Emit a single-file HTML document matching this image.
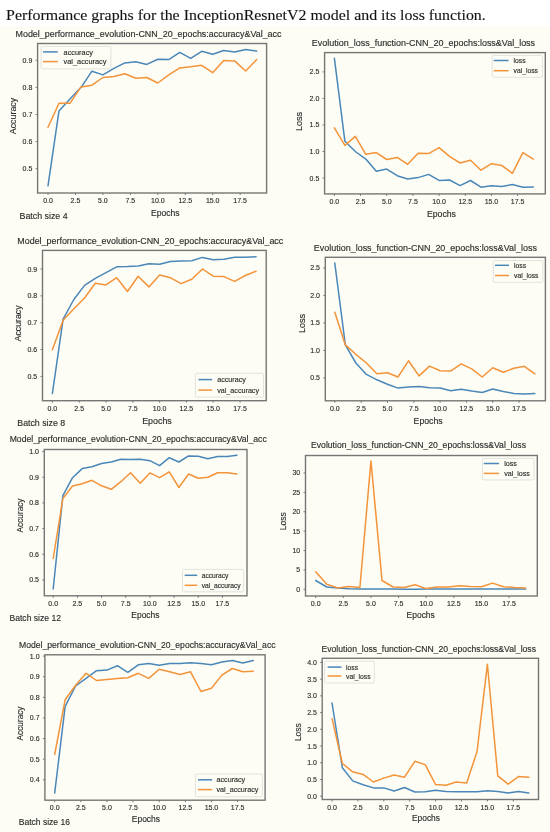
<!DOCTYPE html>
<html><head><meta charset="utf-8"><style>
html,body{margin:0;padding:0;background:#fdfdf5;}
svg{display:block;font-family:"Liberation Sans", sans-serif;will-change:transform;}
text{stroke:#303030;stroke-width:0.14px;}
</style></head><body>
<svg width="550" height="832" viewBox="0 0 550 832">
<rect x="0" y="0" width="550" height="832" fill="#fdfdf5"/>
<rect x="0" y="0" width="550" height="25.8" fill="#ffffff"/>
<text x="6.1" y="19.8" font-family="Liberation Serif" font-size="15" fill="#111" textLength="479.7" lengthAdjust="spacingAndGlyphs">Performance graphs for the InceptionResnetV2 model and its loss function.</text>
<polyline points="48,185.8 58.98,110.9 69.96,98.9 80.94,87.6 91.92,71.2 102.9,74.9 113.88,68.4 124.86,62.9 135.84,61.8 146.82,64.4 157.8,59.2 168.78,59.6 179.76,52.4 190.74,58.3 201.72,51.3 212.7,54.2 223.68,50.5 234.66,52 245.64,49.4 256.62,51.1" fill="none" stroke="#4a87b8" stroke-width="1.5" stroke-linejoin="round" stroke-linecap="round"/>
<polyline points="48,127.3 58.98,103.3 69.96,103.3 80.94,86.9 91.92,85.2 102.9,77.5 113.88,76.4 124.86,73.8 135.84,78.2 146.82,77.5 157.8,83 168.78,74.9 179.76,67.9 190.74,66.8 201.72,65.3 212.7,72.7 223.68,60.5 234.66,60.9 245.64,71 256.62,59.6" fill="none" stroke="#f3933a" stroke-width="1.5" stroke-linejoin="round" stroke-linecap="round"/>
<rect x="41.1" y="46.4" width="69.8" height="22.5" rx="1.2" fill="#fdfdf5" fill-opacity="0.85" stroke="#dcdcd8" stroke-width="0.8"/>
<line x1="43" y1="51.9" x2="57.8" y2="51.9" stroke="#4a87b8" stroke-width="1.5"/>
<text x="63.6" y="54.5" font-size="7.35" fill="#2a2a2a">accuracy</text>
<line x1="43" y1="61.6" x2="57.8" y2="61.6" stroke="#f3933a" stroke-width="1.5"/>
<text x="63.6" y="64.2" font-size="7.35" fill="#2a2a2a">val_accuracy</text>
<rect x="37.6" y="43.5" width="229" height="149.5" fill="none" stroke="#767676" stroke-width="1.4"/>
<line x1="48" y1="193" x2="48" y2="195" stroke="#767676" stroke-width="1"/>
<text x="48" y="203.2" font-size="7" fill="#2a2a2a" text-anchor="middle">0.0</text>
<line x1="75.45" y1="193" x2="75.45" y2="195" stroke="#767676" stroke-width="1"/>
<text x="75.45" y="203.2" font-size="7" fill="#2a2a2a" text-anchor="middle">2.5</text>
<line x1="102.9" y1="193" x2="102.9" y2="195" stroke="#767676" stroke-width="1"/>
<text x="102.9" y="203.2" font-size="7" fill="#2a2a2a" text-anchor="middle">5.0</text>
<line x1="130.35" y1="193" x2="130.35" y2="195" stroke="#767676" stroke-width="1"/>
<text x="130.35" y="203.2" font-size="7" fill="#2a2a2a" text-anchor="middle">7.5</text>
<line x1="157.8" y1="193" x2="157.8" y2="195" stroke="#767676" stroke-width="1"/>
<text x="157.8" y="203.2" font-size="7" fill="#2a2a2a" text-anchor="middle">10.0</text>
<line x1="185.25" y1="193" x2="185.25" y2="195" stroke="#767676" stroke-width="1"/>
<text x="185.25" y="203.2" font-size="7" fill="#2a2a2a" text-anchor="middle">12.5</text>
<line x1="212.7" y1="193" x2="212.7" y2="195" stroke="#767676" stroke-width="1"/>
<text x="212.7" y="203.2" font-size="7" fill="#2a2a2a" text-anchor="middle">15.0</text>
<line x1="240.15" y1="193" x2="240.15" y2="195" stroke="#767676" stroke-width="1"/>
<text x="240.15" y="203.2" font-size="7" fill="#2a2a2a" text-anchor="middle">17.5</text>
<line x1="35.6" y1="168.7" x2="37.6" y2="168.7" stroke="#767676" stroke-width="1"/>
<text x="32.3" y="171.2" font-size="7" fill="#2a2a2a" text-anchor="end">0.5</text>
<line x1="35.6" y1="141.6" x2="37.6" y2="141.6" stroke="#767676" stroke-width="1"/>
<text x="32.3" y="144.1" font-size="7" fill="#2a2a2a" text-anchor="end">0.6</text>
<line x1="35.6" y1="114.5" x2="37.6" y2="114.5" stroke="#767676" stroke-width="1"/>
<text x="32.3" y="117" font-size="7" fill="#2a2a2a" text-anchor="end">0.7</text>
<line x1="35.6" y1="87.4" x2="37.6" y2="87.4" stroke="#767676" stroke-width="1"/>
<text x="32.3" y="89.9" font-size="7" fill="#2a2a2a" text-anchor="end">0.8</text>
<line x1="35.6" y1="60.3" x2="37.6" y2="60.3" stroke="#767676" stroke-width="1"/>
<text x="32.3" y="62.8" font-size="7" fill="#2a2a2a" text-anchor="end">0.9</text>
<text x="15.5" y="36.7" font-size="8.92" fill="#2a2a2a" textLength="266" lengthAdjust="spacingAndGlyphs">Model_performance_evolution-CNN_20_epochs:accuracy&amp;Val_acc</text>
<text x="150.9" y="215.5" font-size="8.6" fill="#2a2a2a" textLength="28.7" lengthAdjust="spacingAndGlyphs">Epochs</text>
<text transform="translate(15.76,116) rotate(-90)" x="0" y="0" font-size="8.88" fill="#2a2a2a" text-anchor="middle">Accuracy</text>
<text x="19.6" y="219.2" font-size="8.81" fill="#2a2a2a" textLength="48" lengthAdjust="spacingAndGlyphs">Batch size 4</text>
<polyline points="334.4,58.3 344.87,141.2 355.34,151.5 365.81,159.1 376.28,171.3 386.75,169.1 397.22,175.7 407.69,179 418.16,177.6 428.63,174.4 439.1,180.4 449.57,180 460.04,185.7 470.51,180.5 480.98,187.2 491.45,185.7 501.92,186.4 512.39,184.6 522.86,187.2 533.33,187" fill="none" stroke="#4a87b8" stroke-width="1.5" stroke-linejoin="round" stroke-linecap="round"/>
<polyline points="334.4,127.9 344.87,145.4 355.34,136.4 365.81,154.3 376.28,152.6 386.75,159.5 397.22,157.4 407.69,164.3 418.16,153.2 428.63,153.6 439.1,147.7 449.57,156.3 460.04,163 470.51,160.2 480.98,170.2 491.45,163.7 501.92,165.6 512.39,173.3 522.86,152.6 533.33,159.1" fill="none" stroke="#f3933a" stroke-width="1.5" stroke-linejoin="round" stroke-linecap="round"/>
<rect x="492.2" y="55.5" width="50.2" height="21.8" rx="1.2" fill="#fdfdf5" fill-opacity="0.85" stroke="#dcdcd8" stroke-width="0.8"/>
<line x1="493.7" y1="60.5" x2="508.5" y2="60.5" stroke="#4a87b8" stroke-width="1.5"/>
<text x="513.6" y="63.1" font-size="6.75" fill="#2a2a2a">loss</text>
<line x1="493.7" y1="70.7" x2="508.5" y2="70.7" stroke="#f3933a" stroke-width="1.5"/>
<text x="513.6" y="73.3" font-size="6.75" fill="#2a2a2a">val_loss</text>
<rect x="324.6" y="52.6" width="220.7" height="141.3" fill="none" stroke="#767676" stroke-width="1.4"/>
<line x1="334.4" y1="193.9" x2="334.4" y2="195.9" stroke="#767676" stroke-width="1"/>
<text x="334.4" y="203.8" font-size="7" fill="#2a2a2a" text-anchor="middle">0.0</text>
<line x1="360.57" y1="193.9" x2="360.57" y2="195.9" stroke="#767676" stroke-width="1"/>
<text x="360.57" y="203.8" font-size="7" fill="#2a2a2a" text-anchor="middle">2.5</text>
<line x1="386.75" y1="193.9" x2="386.75" y2="195.9" stroke="#767676" stroke-width="1"/>
<text x="386.75" y="203.8" font-size="7" fill="#2a2a2a" text-anchor="middle">5.0</text>
<line x1="412.92" y1="193.9" x2="412.92" y2="195.9" stroke="#767676" stroke-width="1"/>
<text x="412.92" y="203.8" font-size="7" fill="#2a2a2a" text-anchor="middle">7.5</text>
<line x1="439.1" y1="193.9" x2="439.1" y2="195.9" stroke="#767676" stroke-width="1"/>
<text x="439.1" y="203.8" font-size="7" fill="#2a2a2a" text-anchor="middle">10.0</text>
<line x1="465.27" y1="193.9" x2="465.27" y2="195.9" stroke="#767676" stroke-width="1"/>
<text x="465.27" y="203.8" font-size="7" fill="#2a2a2a" text-anchor="middle">12.5</text>
<line x1="491.45" y1="193.9" x2="491.45" y2="195.9" stroke="#767676" stroke-width="1"/>
<text x="491.45" y="203.8" font-size="7" fill="#2a2a2a" text-anchor="middle">15.0</text>
<line x1="517.62" y1="193.9" x2="517.62" y2="195.9" stroke="#767676" stroke-width="1"/>
<text x="517.62" y="203.8" font-size="7" fill="#2a2a2a" text-anchor="middle">17.5</text>
<line x1="322.6" y1="178" x2="324.6" y2="178" stroke="#767676" stroke-width="1"/>
<text x="319.3" y="180.5" font-size="7" fill="#2a2a2a" text-anchor="end">0.5</text>
<line x1="322.6" y1="151.47" x2="324.6" y2="151.47" stroke="#767676" stroke-width="1"/>
<text x="319.3" y="153.97" font-size="7" fill="#2a2a2a" text-anchor="end">1.0</text>
<line x1="322.6" y1="124.95" x2="324.6" y2="124.95" stroke="#767676" stroke-width="1"/>
<text x="319.3" y="127.45" font-size="7" fill="#2a2a2a" text-anchor="end">1.5</text>
<line x1="322.6" y1="98.43" x2="324.6" y2="98.43" stroke="#767676" stroke-width="1"/>
<text x="319.3" y="100.93" font-size="7" fill="#2a2a2a" text-anchor="end">2.0</text>
<line x1="322.6" y1="71.9" x2="324.6" y2="71.9" stroke="#767676" stroke-width="1"/>
<text x="319.3" y="74.4" font-size="7" fill="#2a2a2a" text-anchor="end">2.5</text>
<text x="311.8" y="45.6" font-size="8.97" fill="#2a2a2a" textLength="223.3" lengthAdjust="spacingAndGlyphs">Evolution_loss_function-CNN_20_epochs:loss&amp;Val_loss</text>
<text x="426.9" y="216.5" font-size="8.72" fill="#2a2a2a" textLength="29.1" lengthAdjust="spacingAndGlyphs">Epochs</text>
<text transform="translate(302.4,121.4) rotate(-90)" x="0" y="0" font-size="8.99" fill="#2a2a2a" text-anchor="middle">Loss</text>
<polyline points="52.4,393.4 63.12,319.2 73.84,299.5 84.56,285.4 95.28,278.4 106,272.7 116.72,266.8 127.44,266.6 138.16,265.9 148.88,263.8 159.6,264.2 170.32,261.4 181.04,261.1 191.76,260.7 202.48,257.4 213.2,259.8 223.92,259.2 234.64,257.2 245.36,257.2 256.08,256.8" fill="none" stroke="#4a87b8" stroke-width="1.5" stroke-linejoin="round" stroke-linecap="round"/>
<polyline points="52.4,349.7 63.12,320.3 73.84,308.7 84.56,298 95.28,283.2 106,284.9 116.72,277.7 127.44,291.5 138.16,276.2 148.88,286.9 159.6,274.9 170.32,277.7 181.04,283.6 191.76,279.3 202.48,269 213.2,276.2 223.92,276.6 234.64,281.4 245.36,275.5 256.08,271.2" fill="none" stroke="#f3933a" stroke-width="1.5" stroke-linejoin="round" stroke-linecap="round"/>
<rect x="195.4" y="373.3" width="68.1" height="23.8" rx="1.2" fill="#fdfdf5" fill-opacity="0.85" stroke="#dcdcd8" stroke-width="0.8"/>
<line x1="198.4" y1="379.6" x2="212.2" y2="379.6" stroke="#4a87b8" stroke-width="1.5"/>
<text x="217.2" y="382.2" font-size="7.18" fill="#2a2a2a">accuracy</text>
<line x1="198.4" y1="390.1" x2="212.2" y2="390.1" stroke="#f3933a" stroke-width="1.5"/>
<text x="217.2" y="392.7" font-size="7.18" fill="#2a2a2a">val_accuracy</text>
<rect x="42.5" y="250.4" width="223.7" height="150.3" fill="none" stroke="#767676" stroke-width="1.4"/>
<line x1="52.4" y1="400.7" x2="52.4" y2="402.7" stroke="#767676" stroke-width="1"/>
<text x="52.4" y="411" font-size="7" fill="#2a2a2a" text-anchor="middle">0.0</text>
<line x1="79.2" y1="400.7" x2="79.2" y2="402.7" stroke="#767676" stroke-width="1"/>
<text x="79.2" y="411" font-size="7" fill="#2a2a2a" text-anchor="middle">2.5</text>
<line x1="106" y1="400.7" x2="106" y2="402.7" stroke="#767676" stroke-width="1"/>
<text x="106" y="411" font-size="7" fill="#2a2a2a" text-anchor="middle">5.0</text>
<line x1="132.8" y1="400.7" x2="132.8" y2="402.7" stroke="#767676" stroke-width="1"/>
<text x="132.8" y="411" font-size="7" fill="#2a2a2a" text-anchor="middle">7.5</text>
<line x1="159.6" y1="400.7" x2="159.6" y2="402.7" stroke="#767676" stroke-width="1"/>
<text x="159.6" y="411" font-size="7" fill="#2a2a2a" text-anchor="middle">10.0</text>
<line x1="186.4" y1="400.7" x2="186.4" y2="402.7" stroke="#767676" stroke-width="1"/>
<text x="186.4" y="411" font-size="7" fill="#2a2a2a" text-anchor="middle">12.5</text>
<line x1="213.2" y1="400.7" x2="213.2" y2="402.7" stroke="#767676" stroke-width="1"/>
<text x="213.2" y="411" font-size="7" fill="#2a2a2a" text-anchor="middle">15.0</text>
<line x1="240" y1="400.7" x2="240" y2="402.7" stroke="#767676" stroke-width="1"/>
<text x="240" y="411" font-size="7" fill="#2a2a2a" text-anchor="middle">17.5</text>
<line x1="40.5" y1="376.4" x2="42.5" y2="376.4" stroke="#767676" stroke-width="1"/>
<text x="37.2" y="378.9" font-size="7" fill="#2a2a2a" text-anchor="end">0.5</text>
<line x1="40.5" y1="349.55" x2="42.5" y2="349.55" stroke="#767676" stroke-width="1"/>
<text x="37.2" y="352.05" font-size="7" fill="#2a2a2a" text-anchor="end">0.6</text>
<line x1="40.5" y1="322.7" x2="42.5" y2="322.7" stroke="#767676" stroke-width="1"/>
<text x="37.2" y="325.2" font-size="7" fill="#2a2a2a" text-anchor="end">0.7</text>
<line x1="40.5" y1="295.85" x2="42.5" y2="295.85" stroke="#767676" stroke-width="1"/>
<text x="37.2" y="298.35" font-size="7" fill="#2a2a2a" text-anchor="end">0.8</text>
<line x1="40.5" y1="269" x2="42.5" y2="269" stroke="#767676" stroke-width="1"/>
<text x="37.2" y="271.5" font-size="7" fill="#2a2a2a" text-anchor="end">0.9</text>
<text x="17.3" y="244.2" font-size="8.92" fill="#2a2a2a" textLength="266" lengthAdjust="spacingAndGlyphs">Model_performance_evolution-CNN_20_epochs:accuracy&amp;Val_acc</text>
<text x="142.2" y="423.5" font-size="8.87" fill="#2a2a2a" textLength="29.6" lengthAdjust="spacingAndGlyphs">Epochs</text>
<text transform="translate(21.13,323.4) rotate(-90)" x="0" y="0" font-size="8.75" fill="#2a2a2a" text-anchor="middle">Accuracy</text>
<text x="17.3" y="425.9" font-size="8.77" fill="#2a2a2a" textLength="47.8" lengthAdjust="spacingAndGlyphs">Batch size 8</text>
<polyline points="334.8,263.1 345.33,344.9 355.86,363 366.39,374.4 376.92,379.8 387.45,384.2 397.98,388.1 408.51,387 419.04,386.6 429.57,387.7 440.1,388.1 450.63,390.7 461.16,389.2 471.69,391 482.22,392.5 492.75,389 503.28,391.4 513.81,393.4 524.34,394 534.87,393.4" fill="none" stroke="#4a87b8" stroke-width="1.5" stroke-linejoin="round" stroke-linecap="round"/>
<polyline points="334.8,312.2 345.33,344.9 355.86,354.3 366.39,363 376.92,373.7 387.45,372.8 397.98,377 408.51,360.8 419.04,375.9 429.57,366.1 440.1,370.7 450.63,371.1 461.16,363.9 471.69,368.9 482.22,377 492.75,367.8 503.28,372.2 513.81,368.3 524.34,366.3 534.87,373.9" fill="none" stroke="#f3933a" stroke-width="1.5" stroke-linejoin="round" stroke-linecap="round"/>
<rect x="493.3" y="260.5" width="49.5" height="21.8" rx="1.2" fill="#fdfdf5" fill-opacity="0.85" stroke="#dcdcd8" stroke-width="0.8"/>
<line x1="495" y1="265.3" x2="509" y2="265.3" stroke="#4a87b8" stroke-width="1.5"/>
<text x="514" y="267.9" font-size="6.75" fill="#2a2a2a">loss</text>
<line x1="495" y1="275.5" x2="509" y2="275.5" stroke="#f3933a" stroke-width="1.5"/>
<text x="514" y="278.1" font-size="6.75" fill="#2a2a2a">val_loss</text>
<rect x="325.3" y="257.3" width="220.1" height="143.5" fill="none" stroke="#767676" stroke-width="1.4"/>
<line x1="334.8" y1="400.8" x2="334.8" y2="402.8" stroke="#767676" stroke-width="1"/>
<text x="334.8" y="410.7" font-size="7" fill="#2a2a2a" text-anchor="middle">0.0</text>
<line x1="361.12" y1="400.8" x2="361.12" y2="402.8" stroke="#767676" stroke-width="1"/>
<text x="361.12" y="410.7" font-size="7" fill="#2a2a2a" text-anchor="middle">2.5</text>
<line x1="387.45" y1="400.8" x2="387.45" y2="402.8" stroke="#767676" stroke-width="1"/>
<text x="387.45" y="410.7" font-size="7" fill="#2a2a2a" text-anchor="middle">5.0</text>
<line x1="413.77" y1="400.8" x2="413.77" y2="402.8" stroke="#767676" stroke-width="1"/>
<text x="413.77" y="410.7" font-size="7" fill="#2a2a2a" text-anchor="middle">7.5</text>
<line x1="440.1" y1="400.8" x2="440.1" y2="402.8" stroke="#767676" stroke-width="1"/>
<text x="440.1" y="410.7" font-size="7" fill="#2a2a2a" text-anchor="middle">10.0</text>
<line x1="466.43" y1="400.8" x2="466.43" y2="402.8" stroke="#767676" stroke-width="1"/>
<text x="466.43" y="410.7" font-size="7" fill="#2a2a2a" text-anchor="middle">12.5</text>
<line x1="492.75" y1="400.8" x2="492.75" y2="402.8" stroke="#767676" stroke-width="1"/>
<text x="492.75" y="410.7" font-size="7" fill="#2a2a2a" text-anchor="middle">15.0</text>
<line x1="519.08" y1="400.8" x2="519.08" y2="402.8" stroke="#767676" stroke-width="1"/>
<text x="519.08" y="410.7" font-size="7" fill="#2a2a2a" text-anchor="middle">17.5</text>
<line x1="323.3" y1="377.9" x2="325.3" y2="377.9" stroke="#767676" stroke-width="1"/>
<text x="320" y="380.4" font-size="7" fill="#2a2a2a" text-anchor="end">0.5</text>
<line x1="323.3" y1="350.4" x2="325.3" y2="350.4" stroke="#767676" stroke-width="1"/>
<text x="320" y="352.9" font-size="7" fill="#2a2a2a" text-anchor="end">1.0</text>
<line x1="323.3" y1="322.9" x2="325.3" y2="322.9" stroke="#767676" stroke-width="1"/>
<text x="320" y="325.4" font-size="7" fill="#2a2a2a" text-anchor="end">1.5</text>
<line x1="323.3" y1="295.4" x2="325.3" y2="295.4" stroke="#767676" stroke-width="1"/>
<text x="320" y="297.9" font-size="7" fill="#2a2a2a" text-anchor="end">2.0</text>
<line x1="323.3" y1="267.9" x2="325.3" y2="267.9" stroke="#767676" stroke-width="1"/>
<text x="320" y="270.4" font-size="7" fill="#2a2a2a" text-anchor="end">2.5</text>
<text x="313.8" y="250.6" font-size="8.97" fill="#2a2a2a" textLength="223.1" lengthAdjust="spacingAndGlyphs">Evolution_loss_function-CNN_20_epochs:loss&amp;Val_loss</text>
<text x="413.6" y="423.8" font-size="8.72" fill="#2a2a2a" textLength="29.1" lengthAdjust="spacingAndGlyphs">Epochs</text>
<text transform="translate(304.7,323.5) rotate(-90)" x="0" y="0" font-size="8.99" fill="#2a2a2a" text-anchor="middle">Loss</text>
<polyline points="53.2,589 62.87,495.6 72.54,477.7 82.21,468.6 91.88,466.8 101.55,463.5 111.22,462 120.89,459.2 130.56,459.6 140.23,459.2 149.9,460.7 159.57,465.7 169.24,457.7 178.91,462 188.58,455.9 198.25,456.3 207.92,458.7 217.59,456.6 227.26,456.6 236.93,455.3" fill="none" stroke="#4a87b8" stroke-width="1.5" stroke-linejoin="round" stroke-linecap="round"/>
<polyline points="53.2,558.5 62.87,498.5 72.54,486 82.21,483.8 91.88,480.3 101.55,485.8 111.22,489.3 120.89,481.7 130.56,472.7 140.23,483.2 149.9,472.9 159.57,477.7 169.24,471.8 178.91,487.5 188.58,474 198.25,478.2 207.92,477.3 217.59,472.7 227.26,472.7 236.93,474" fill="none" stroke="#f3933a" stroke-width="1.5" stroke-linejoin="round" stroke-linecap="round"/>
<rect x="182.5" y="569.4" width="61.1" height="22.4" rx="1.2" fill="#fdfdf5" fill-opacity="0.85" stroke="#dcdcd8" stroke-width="0.8"/>
<line x1="184.7" y1="575.3" x2="197.2" y2="575.3" stroke="#4a87b8" stroke-width="1.5"/>
<text x="201.7" y="577.9" font-size="6.7" fill="#2a2a2a">accuracy</text>
<line x1="184.7" y1="585.3" x2="197.2" y2="585.3" stroke="#f3933a" stroke-width="1.5"/>
<text x="201.7" y="587.9" font-size="6.7" fill="#2a2a2a">val_accuracy</text>
<rect x="44.3" y="449.5" width="202.7" height="146.3" fill="none" stroke="#767676" stroke-width="1.4"/>
<line x1="53.2" y1="595.8" x2="53.2" y2="597.8" stroke="#767676" stroke-width="1"/>
<text x="53.2" y="606" font-size="7" fill="#2a2a2a" text-anchor="middle">0.0</text>
<line x1="77.38" y1="595.8" x2="77.38" y2="597.8" stroke="#767676" stroke-width="1"/>
<text x="77.38" y="606" font-size="7" fill="#2a2a2a" text-anchor="middle">2.5</text>
<line x1="101.55" y1="595.8" x2="101.55" y2="597.8" stroke="#767676" stroke-width="1"/>
<text x="101.55" y="606" font-size="7" fill="#2a2a2a" text-anchor="middle">5.0</text>
<line x1="125.73" y1="595.8" x2="125.73" y2="597.8" stroke="#767676" stroke-width="1"/>
<text x="125.73" y="606" font-size="7" fill="#2a2a2a" text-anchor="middle">7.5</text>
<line x1="149.9" y1="595.8" x2="149.9" y2="597.8" stroke="#767676" stroke-width="1"/>
<text x="149.9" y="606" font-size="7" fill="#2a2a2a" text-anchor="middle">10.0</text>
<line x1="174.07" y1="595.8" x2="174.07" y2="597.8" stroke="#767676" stroke-width="1"/>
<text x="174.07" y="606" font-size="7" fill="#2a2a2a" text-anchor="middle">12.5</text>
<line x1="198.25" y1="595.8" x2="198.25" y2="597.8" stroke="#767676" stroke-width="1"/>
<text x="198.25" y="606" font-size="7" fill="#2a2a2a" text-anchor="middle">15.0</text>
<line x1="222.43" y1="595.8" x2="222.43" y2="597.8" stroke="#767676" stroke-width="1"/>
<text x="222.43" y="606" font-size="7" fill="#2a2a2a" text-anchor="middle">17.5</text>
<line x1="42.3" y1="579.9" x2="44.3" y2="579.9" stroke="#767676" stroke-width="1"/>
<text x="39" y="582.4" font-size="7" fill="#2a2a2a" text-anchor="end">0.5</text>
<line x1="42.3" y1="554.24" x2="44.3" y2="554.24" stroke="#767676" stroke-width="1"/>
<text x="39" y="556.74" font-size="7" fill="#2a2a2a" text-anchor="end">0.6</text>
<line x1="42.3" y1="528.58" x2="44.3" y2="528.58" stroke="#767676" stroke-width="1"/>
<text x="39" y="531.08" font-size="7" fill="#2a2a2a" text-anchor="end">0.7</text>
<line x1="42.3" y1="502.92" x2="44.3" y2="502.92" stroke="#767676" stroke-width="1"/>
<text x="39" y="505.42" font-size="7" fill="#2a2a2a" text-anchor="end">0.8</text>
<line x1="42.3" y1="477.26" x2="44.3" y2="477.26" stroke="#767676" stroke-width="1"/>
<text x="39" y="479.76" font-size="7" fill="#2a2a2a" text-anchor="end">0.9</text>
<line x1="42.3" y1="451.6" x2="44.3" y2="451.6" stroke="#767676" stroke-width="1"/>
<text x="39" y="454.1" font-size="7" fill="#2a2a2a" text-anchor="end">1.0</text>
<text x="9.7" y="442.2" font-size="8.62" fill="#2a2a2a" textLength="257" lengthAdjust="spacingAndGlyphs">Model_performance_evolution-CNN_20_epochs:accuracy&amp;Val_acc</text>
<text x="131.3" y="618.2" font-size="8.45" fill="#2a2a2a" textLength="28.2" lengthAdjust="spacingAndGlyphs">Epochs</text>
<text transform="translate(23.38,515.5) rotate(-90)" x="0" y="0" font-size="8.27" fill="#2a2a2a" text-anchor="middle">Accuracy</text>
<text x="9.5" y="621.3" font-size="8.56" fill="#2a2a2a" textLength="51.4" lengthAdjust="spacingAndGlyphs">Batch size 12</text>
<polyline points="315.7,580.5 326.75,587 337.8,588.1 348.85,588.8 359.9,589 370.95,589 382,589 393.05,589 404.1,589.2 415.15,589.2 426.2,589 437.25,589 448.3,589 459.35,589 470.4,589 481.45,589 492.5,589 503.55,589 514.6,589 525.65,589" fill="none" stroke="#4a87b8" stroke-width="1.5" stroke-linejoin="round" stroke-linecap="round"/>
<polyline points="315.7,571.8 326.75,584.2 337.8,587.9 348.85,586.4 359.9,587.5 370.95,460.9 382,580.5 393.05,587 404.1,587.5 415.15,584.8 426.2,588.6 437.25,587 448.3,587 459.35,585.7 470.4,586.4 481.45,586.8 492.5,583.1 503.55,586.8 514.6,587.5 525.65,587.9" fill="none" stroke="#f3933a" stroke-width="1.5" stroke-linejoin="round" stroke-linecap="round"/>
<rect x="482.4" y="458.4" width="51.6" height="21.5" rx="1.2" fill="#fdfdf5" fill-opacity="0.85" stroke="#dcdcd8" stroke-width="0.8"/>
<line x1="483.8" y1="463.5" x2="499.1" y2="463.5" stroke="#4a87b8" stroke-width="1.5"/>
<text x="504.2" y="466.1" font-size="7.11" fill="#2a2a2a">loss</text>
<line x1="483.8" y1="473.4" x2="499.1" y2="473.4" stroke="#f3933a" stroke-width="1.5"/>
<text x="504.2" y="476" font-size="7.11" fill="#2a2a2a">val_loss</text>
<rect x="305.5" y="455.5" width="231.8" height="140.5" fill="none" stroke="#767676" stroke-width="1.4"/>
<line x1="315.7" y1="596" x2="315.7" y2="598" stroke="#767676" stroke-width="1"/>
<text x="315.7" y="605.7" font-size="7" fill="#2a2a2a" text-anchor="middle">0.0</text>
<line x1="343.32" y1="596" x2="343.32" y2="598" stroke="#767676" stroke-width="1"/>
<text x="343.32" y="605.7" font-size="7" fill="#2a2a2a" text-anchor="middle">2.5</text>
<line x1="370.95" y1="596" x2="370.95" y2="598" stroke="#767676" stroke-width="1"/>
<text x="370.95" y="605.7" font-size="7" fill="#2a2a2a" text-anchor="middle">5.0</text>
<line x1="398.57" y1="596" x2="398.57" y2="598" stroke="#767676" stroke-width="1"/>
<text x="398.57" y="605.7" font-size="7" fill="#2a2a2a" text-anchor="middle">7.5</text>
<line x1="426.2" y1="596" x2="426.2" y2="598" stroke="#767676" stroke-width="1"/>
<text x="426.2" y="605.7" font-size="7" fill="#2a2a2a" text-anchor="middle">10.0</text>
<line x1="453.82" y1="596" x2="453.82" y2="598" stroke="#767676" stroke-width="1"/>
<text x="453.82" y="605.7" font-size="7" fill="#2a2a2a" text-anchor="middle">12.5</text>
<line x1="481.45" y1="596" x2="481.45" y2="598" stroke="#767676" stroke-width="1"/>
<text x="481.45" y="605.7" font-size="7" fill="#2a2a2a" text-anchor="middle">15.0</text>
<line x1="509.07" y1="596" x2="509.07" y2="598" stroke="#767676" stroke-width="1"/>
<text x="509.07" y="605.7" font-size="7" fill="#2a2a2a" text-anchor="middle">17.5</text>
<line x1="303.5" y1="589.3" x2="305.5" y2="589.3" stroke="#767676" stroke-width="1"/>
<text x="300.2" y="591.8" font-size="7" fill="#2a2a2a" text-anchor="end">0</text>
<line x1="303.5" y1="569.91" x2="305.5" y2="569.91" stroke="#767676" stroke-width="1"/>
<text x="300.2" y="572.41" font-size="7" fill="#2a2a2a" text-anchor="end">5</text>
<line x1="303.5" y1="550.53" x2="305.5" y2="550.53" stroke="#767676" stroke-width="1"/>
<text x="300.2" y="553.03" font-size="7" fill="#2a2a2a" text-anchor="end">10</text>
<line x1="303.5" y1="531.14" x2="305.5" y2="531.14" stroke="#767676" stroke-width="1"/>
<text x="300.2" y="533.64" font-size="7" fill="#2a2a2a" text-anchor="end">15</text>
<line x1="303.5" y1="511.76" x2="305.5" y2="511.76" stroke="#767676" stroke-width="1"/>
<text x="300.2" y="514.26" font-size="7" fill="#2a2a2a" text-anchor="end">20</text>
<line x1="303.5" y1="492.37" x2="305.5" y2="492.37" stroke="#767676" stroke-width="1"/>
<text x="300.2" y="494.87" font-size="7" fill="#2a2a2a" text-anchor="end">25</text>
<line x1="303.5" y1="472.99" x2="305.5" y2="472.99" stroke="#767676" stroke-width="1"/>
<text x="300.2" y="475.49" font-size="7" fill="#2a2a2a" text-anchor="end">30</text>
<text x="311" y="448.4" font-size="8.64" fill="#2a2a2a" textLength="215" lengthAdjust="spacingAndGlyphs">Evolution_loss_function-CNN_20_epochs:loss&amp;Val_loss</text>
<text x="406.6" y="617.9" font-size="8.45" fill="#2a2a2a" textLength="28.2" lengthAdjust="spacingAndGlyphs">Epochs</text>
<text transform="translate(285.86,521.2) rotate(-90)" x="0" y="0" font-size="8.52" fill="#2a2a2a" text-anchor="middle">Loss</text>
<polyline points="54.7,792.9 65.15,706.3 75.6,686 86.05,678.4 96.5,670.7 106.95,670.1 117.4,665.7 127.85,672.3 138.3,664.8 148.75,663.5 159.2,665.3 169.65,663.5 180.1,663.5 190.55,662.7 201,663.5 211.45,664.8 221.9,662 232.35,660.5 242.8,663.1 253.25,660.5" fill="none" stroke="#4a87b8" stroke-width="1.5" stroke-linejoin="round" stroke-linecap="round"/>
<polyline points="54.7,754.3 65.15,699.7 75.6,685.3 86.05,673.3 96.5,680.5 106.95,679.5 117.4,678.4 127.85,677.7 138.3,673.3 148.75,678.4 159.2,669.2 169.65,671.8 180.1,674.4 190.55,671.8 201,691.5 211.45,688.2 221.9,675.1 232.35,668.5 242.8,671.8 253.25,671.2" fill="none" stroke="#f3933a" stroke-width="1.5" stroke-linejoin="round" stroke-linecap="round"/>
<rect x="195.4" y="774" width="67" height="22.8" rx="1.2" fill="#fdfdf5" fill-opacity="0.85" stroke="#dcdcd8" stroke-width="0.8"/>
<line x1="198" y1="779.8" x2="212.2" y2="779.8" stroke="#4a87b8" stroke-width="1.5"/>
<text x="216.5" y="782.4" font-size="7.18" fill="#2a2a2a">accuracy</text>
<line x1="198" y1="789.6" x2="212.2" y2="789.6" stroke="#f3933a" stroke-width="1.5"/>
<text x="216.5" y="792.2" font-size="7.18" fill="#2a2a2a">val_accuracy</text>
<rect x="44.9" y="654.8" width="220.2" height="145.4" fill="none" stroke="#767676" stroke-width="1.4"/>
<line x1="54.7" y1="800.2" x2="54.7" y2="802.2" stroke="#767676" stroke-width="1"/>
<text x="54.7" y="810" font-size="7" fill="#2a2a2a" text-anchor="middle">0.0</text>
<line x1="80.83" y1="800.2" x2="80.83" y2="802.2" stroke="#767676" stroke-width="1"/>
<text x="80.83" y="810" font-size="7" fill="#2a2a2a" text-anchor="middle">2.5</text>
<line x1="106.95" y1="800.2" x2="106.95" y2="802.2" stroke="#767676" stroke-width="1"/>
<text x="106.95" y="810" font-size="7" fill="#2a2a2a" text-anchor="middle">5.0</text>
<line x1="133.07" y1="800.2" x2="133.07" y2="802.2" stroke="#767676" stroke-width="1"/>
<text x="133.07" y="810" font-size="7" fill="#2a2a2a" text-anchor="middle">7.5</text>
<line x1="159.2" y1="800.2" x2="159.2" y2="802.2" stroke="#767676" stroke-width="1"/>
<text x="159.2" y="810" font-size="7" fill="#2a2a2a" text-anchor="middle">10.0</text>
<line x1="185.32" y1="800.2" x2="185.32" y2="802.2" stroke="#767676" stroke-width="1"/>
<text x="185.32" y="810" font-size="7" fill="#2a2a2a" text-anchor="middle">12.5</text>
<line x1="211.45" y1="800.2" x2="211.45" y2="802.2" stroke="#767676" stroke-width="1"/>
<text x="211.45" y="810" font-size="7" fill="#2a2a2a" text-anchor="middle">15.0</text>
<line x1="237.57" y1="800.2" x2="237.57" y2="802.2" stroke="#767676" stroke-width="1"/>
<text x="237.57" y="810" font-size="7" fill="#2a2a2a" text-anchor="middle">17.5</text>
<line x1="42.9" y1="779.8" x2="44.9" y2="779.8" stroke="#767676" stroke-width="1"/>
<text x="39.6" y="782.3" font-size="7" fill="#2a2a2a" text-anchor="end">0.4</text>
<line x1="42.9" y1="759.18" x2="44.9" y2="759.18" stroke="#767676" stroke-width="1"/>
<text x="39.6" y="761.68" font-size="7" fill="#2a2a2a" text-anchor="end">0.5</text>
<line x1="42.9" y1="738.56" x2="44.9" y2="738.56" stroke="#767676" stroke-width="1"/>
<text x="39.6" y="741.06" font-size="7" fill="#2a2a2a" text-anchor="end">0.6</text>
<line x1="42.9" y1="717.94" x2="44.9" y2="717.94" stroke="#767676" stroke-width="1"/>
<text x="39.6" y="720.44" font-size="7" fill="#2a2a2a" text-anchor="end">0.7</text>
<line x1="42.9" y1="697.32" x2="44.9" y2="697.32" stroke="#767676" stroke-width="1"/>
<text x="39.6" y="699.82" font-size="7" fill="#2a2a2a" text-anchor="end">0.8</text>
<line x1="42.9" y1="676.7" x2="44.9" y2="676.7" stroke="#767676" stroke-width="1"/>
<text x="39.6" y="679.2" font-size="7" fill="#2a2a2a" text-anchor="end">0.9</text>
<line x1="42.9" y1="656.08" x2="44.9" y2="656.08" stroke="#767676" stroke-width="1"/>
<text x="39.6" y="658.58" font-size="7" fill="#2a2a2a" text-anchor="end">1.0</text>
<text x="19.1" y="648.2" font-size="8.6" fill="#2a2a2a" textLength="256.4" lengthAdjust="spacingAndGlyphs">Model_performance_evolution-CNN_20_epochs:accuracy&amp;Val_acc</text>
<text x="131.8" y="821.8" font-size="8.45" fill="#2a2a2a" textLength="28.2" lengthAdjust="spacingAndGlyphs">Epochs</text>
<text transform="translate(23.48,723.5) rotate(-90)" x="0" y="0" font-size="8.27" fill="#2a2a2a" text-anchor="middle">Accuracy</text>
<text x="18.7" y="824.9" font-size="8.55" fill="#2a2a2a" textLength="51.3" lengthAdjust="spacingAndGlyphs">Batch size 16</text>
<polyline points="332,703 342.36,767.8 352.72,780.9 363.08,784.8 373.44,787.9 383.8,787.9 394.16,791 404.52,787.5 414.88,792 425.24,791.8 435.6,790.3 445.96,791.4 456.32,791.8 466.68,791.8 477.04,791.8 487.4,790.7 497.76,791.4 508.12,792.9 518.48,791.4 528.84,792.9" fill="none" stroke="#4a87b8" stroke-width="1.5" stroke-linejoin="round" stroke-linecap="round"/>
<polyline points="332,718.7 342.36,763.5 352.72,771.8 363.08,774.4 373.44,782 383.8,778.1 394.16,775 404.52,777.2 414.88,761.3 425.24,764.6 435.6,784.6 445.96,785.3 456.32,782 466.68,783.1 477.04,751.5 487.4,664.2 497.76,775.9 508.12,784.2 518.48,776.6 528.84,777.2" fill="none" stroke="#f3933a" stroke-width="1.5" stroke-linejoin="round" stroke-linecap="round"/>
<rect x="324.7" y="661.2" width="49.6" height="21.8" rx="1.2" fill="#fdfdf5" fill-opacity="0.85" stroke="#dcdcd8" stroke-width="0.8"/>
<line x1="327.6" y1="667.1" x2="341.5" y2="667.1" stroke="#4a87b8" stroke-width="1.5"/>
<text x="346.1" y="669.7" font-size="6.78" fill="#2a2a2a">loss</text>
<line x1="327.6" y1="676" x2="341.5" y2="676" stroke="#f3933a" stroke-width="1.5"/>
<text x="346.1" y="678.6" font-size="6.78" fill="#2a2a2a">val_loss</text>
<rect x="322.2" y="658.3" width="216.3" height="141.2" fill="none" stroke="#767676" stroke-width="1.4"/>
<line x1="332" y1="799.5" x2="332" y2="801.5" stroke="#767676" stroke-width="1"/>
<text x="332" y="809.6" font-size="7" fill="#2a2a2a" text-anchor="middle">0.0</text>
<line x1="357.9" y1="799.5" x2="357.9" y2="801.5" stroke="#767676" stroke-width="1"/>
<text x="357.9" y="809.6" font-size="7" fill="#2a2a2a" text-anchor="middle">2.5</text>
<line x1="383.8" y1="799.5" x2="383.8" y2="801.5" stroke="#767676" stroke-width="1"/>
<text x="383.8" y="809.6" font-size="7" fill="#2a2a2a" text-anchor="middle">5.0</text>
<line x1="409.7" y1="799.5" x2="409.7" y2="801.5" stroke="#767676" stroke-width="1"/>
<text x="409.7" y="809.6" font-size="7" fill="#2a2a2a" text-anchor="middle">7.5</text>
<line x1="435.6" y1="799.5" x2="435.6" y2="801.5" stroke="#767676" stroke-width="1"/>
<text x="435.6" y="809.6" font-size="7" fill="#2a2a2a" text-anchor="middle">10.0</text>
<line x1="461.5" y1="799.5" x2="461.5" y2="801.5" stroke="#767676" stroke-width="1"/>
<text x="461.5" y="809.6" font-size="7" fill="#2a2a2a" text-anchor="middle">12.5</text>
<line x1="487.4" y1="799.5" x2="487.4" y2="801.5" stroke="#767676" stroke-width="1"/>
<text x="487.4" y="809.6" font-size="7" fill="#2a2a2a" text-anchor="middle">15.0</text>
<line x1="513.3" y1="799.5" x2="513.3" y2="801.5" stroke="#767676" stroke-width="1"/>
<text x="513.3" y="809.6" font-size="7" fill="#2a2a2a" text-anchor="middle">17.5</text>
<line x1="320.2" y1="796.2" x2="322.2" y2="796.2" stroke="#767676" stroke-width="1"/>
<text x="316.9" y="798.7" font-size="7" fill="#2a2a2a" text-anchor="end">0.0</text>
<line x1="320.2" y1="779.48" x2="322.2" y2="779.48" stroke="#767676" stroke-width="1"/>
<text x="316.9" y="781.98" font-size="7" fill="#2a2a2a" text-anchor="end">0.5</text>
<line x1="320.2" y1="762.75" x2="322.2" y2="762.75" stroke="#767676" stroke-width="1"/>
<text x="316.9" y="765.25" font-size="7" fill="#2a2a2a" text-anchor="end">1.0</text>
<line x1="320.2" y1="746.03" x2="322.2" y2="746.03" stroke="#767676" stroke-width="1"/>
<text x="316.9" y="748.53" font-size="7" fill="#2a2a2a" text-anchor="end">1.5</text>
<line x1="320.2" y1="729.3" x2="322.2" y2="729.3" stroke="#767676" stroke-width="1"/>
<text x="316.9" y="731.8" font-size="7" fill="#2a2a2a" text-anchor="end">2.0</text>
<line x1="320.2" y1="712.58" x2="322.2" y2="712.58" stroke="#767676" stroke-width="1"/>
<text x="316.9" y="715.08" font-size="7" fill="#2a2a2a" text-anchor="end">2.5</text>
<line x1="320.2" y1="695.85" x2="322.2" y2="695.85" stroke="#767676" stroke-width="1"/>
<text x="316.9" y="698.35" font-size="7" fill="#2a2a2a" text-anchor="end">3.0</text>
<line x1="320.2" y1="679.12" x2="322.2" y2="679.12" stroke="#767676" stroke-width="1"/>
<text x="316.9" y="681.62" font-size="7" fill="#2a2a2a" text-anchor="end">3.5</text>
<line x1="320.2" y1="662.4" x2="322.2" y2="662.4" stroke="#767676" stroke-width="1"/>
<text x="316.9" y="664.9" font-size="7" fill="#2a2a2a" text-anchor="end">4.0</text>
<text x="321.5" y="651.8" font-size="8.62" fill="#2a2a2a" textLength="214.5" lengthAdjust="spacingAndGlyphs">Evolution_loss_function-CNN_20_epochs:loss&amp;Val_loss</text>
<text x="412" y="820.8" font-size="8.36" fill="#2a2a2a" textLength="27.9" lengthAdjust="spacingAndGlyphs">Epochs</text>
<text transform="translate(301.23,732.2) rotate(-90)" x="0" y="0" font-size="8.43" fill="#2a2a2a" text-anchor="middle">Loss</text>
</svg>
</body></html>
